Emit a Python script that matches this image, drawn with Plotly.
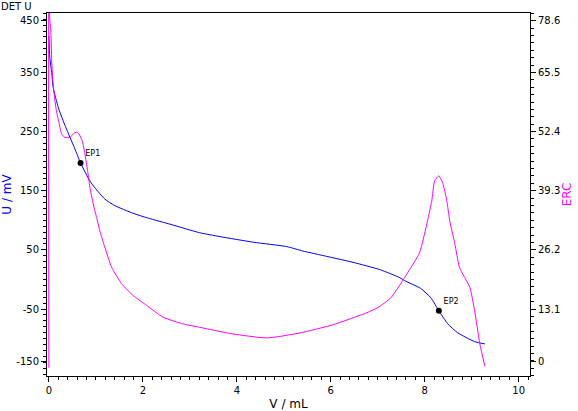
import plotly.graph_objects as go

# titration curve U / mV against V / mL
v_u = [0.0, 0.02, 0.06, 0.09, 0.2, 0.3, 0.45, 0.553, 0.674, 0.894, 1.19, 1.40, 1.79,
       2.1, 2.6, 3.21, 3.64, 4.35, 5.06, 5.41, 5.77, 6.47, 7.04, 7.47, 7.57, 7.91, 8.13,
       8.30, 8.49, 8.70, 9.06, 9.28]
u_mv = [412, 375, 350, 325, 291, 269, 240, 221, 197, 164, 136, 125, 112,
        104, 93, 79, 72.5, 63, 55.6, 48, 41.6, 29, 16.7, 3, -2, -15, -31,
        -53, -75, -90, -105, -109]

# ERC curve
v_erc = [0.0, 0.0, 0.02, 0.04, 0.06, 0.09, 0.12, 0.16, 0.22, 0.27, 0.34, 0.45, 0.52, 0.59,
         0.638, 0.709, 0.766, 0.823, 0.872, 0.943, 1.015, 1.085, 1.19, 1.334, 1.547, 1.794,
         2.08, 2.43, 2.86, 3.21, 3.91, 4.64, 5.34, 6.04, 6.77, 7.0, 7.28, 7.64, 7.89, 8.06,
         8.15, 8.21, 8.3, 8.38, 8.47, 8.53, 8.64, 8.74, 8.96, 9.06, 9.17, 9.28]
erc = [0.1, 82, 77, 75, 68, 63, 60, 57, 54.1, 51.9, 51.1, 51.1, 51.9, 52.3,
       51.9, 50.4, 47.5, 43.8, 40.1, 36.4, 33.4, 30.4, 26.8, 22.4, 18.7, 16.1,
       13.9, 11.3, 9.8, 9.05, 7.6, 6.7, 7.8, 9.6, 12.3, 13.4, 15.6, 21.2, 25.6, 32.7,
       37.1, 41.5, 42.6, 41.1, 37.1, 32.7, 27.6, 22.3, 17.9, 12.8, 5.5, 0.4]

# end points
ep_names = ['EP1', 'EP2']
ep_v = [0.674, 8.30]
ep_u = [197, -53]

# tick labels; the two end labels sit pulled inward in the original
u_labels = ['-150', '-50', '50', '150', '250', '350', '450']
u_label_pos = [-139, -50, 50, 150, 250, 350, 438]
erc_labels = ['0', '13.1', '26.2', '39.3', '52.4', '65.5', '78.6']
erc_label_pos = [1.45, 13.1, 26.2, 39.3, 52.4, 65.5, 77.0]
v_ticks = [0, 2, 4, 6, 8, 10]

u_range = [-163.2, 450.5]
erc_range = [(u + 150) * 0.131 for u in u_range]

font = 'DejaVu Sans'

fig = go.Figure()
fig.add_scatter(x=v_erc, y=erc, mode='lines', yaxis='y2',
                line=dict(color='#ff00ff', width=1, shape='spline', smoothing=0.5))
fig.add_scatter(x=v_u, y=u_mv, mode='lines',
                line=dict(color='#0000ff', width=1, shape='spline', smoothing=0.6))
fig.add_scatter(x=ep_v, y=ep_u, mode='markers+text', text=ep_names, textposition='top right',
                marker=dict(color='black', size=6), textfont=dict(size=8, color='black', family=font))
fig.update_traces(showlegend=False)

fig.update_layout(
    width=578, height=411,
    margin=dict(l=47, r=48, t=13, b=35),
    plot_bgcolor='white', paper_bgcolor='white',
    font=dict(family=font, size=10, color='black'),
    xaxis=dict(range=[-0.04, 10.24], showgrid=False, zeroline=False, showline=True,
               linecolor='black', linewidth=1, mirror=True, ticks='outside', ticklen=5,
               tickcolor='black', tickvals=v_ticks, ticktext=[str(t) for t in v_ticks],
               minor=dict(dtick=0.2, tick0=0, ticks='outside', ticklen=3, tickcolor='black'),
               automargin=False, title=dict(text='V / mL', standoff=6)),
    yaxis=dict(range=u_range, showgrid=False, zeroline=False, showline=True,
               linecolor='black', linewidth=1, ticks='outside', ticklen=5, tickcolor='black',
               tickvals=u_label_pos, ticktext=u_labels,
               minor=dict(dtick=10, tick0=-150, ticks='outside', ticklen=3, tickcolor='black'),
               automargin=False, title=dict(text='U / mV', font=dict(color='#0000ff'), standoff=2)),
    yaxis2=dict(range=erc_range, overlaying='y', side='right', showgrid=False, zeroline=False,
                showline=True, linecolor='black', linewidth=1, ticks='outside', ticklen=5,
                tickcolor='black', tickvals=erc_label_pos, ticktext=erc_labels,
                minor=dict(dtick=13.1 / 8, tick0=0, ticks='outside', ticklen=3, tickcolor='black'),
                automargin=False, title=dict(text='ERC', font=dict(color='#ff00ff'), standoff=2)),
)
fig.add_annotation(text='DET U', xref='paper', yref='paper', x=-47 / 483, y=1 + 13 / 363,
                   xanchor='left', yanchor='top', showarrow=False, font=dict(size=10),
                   borderpad=0)

# the page body has a default 8px margin; drop it so the figure sits at 0,0
fig.write_html("out.html", config={'displayModeBar': False},
               post_script="document.body.style.margin='0';")
